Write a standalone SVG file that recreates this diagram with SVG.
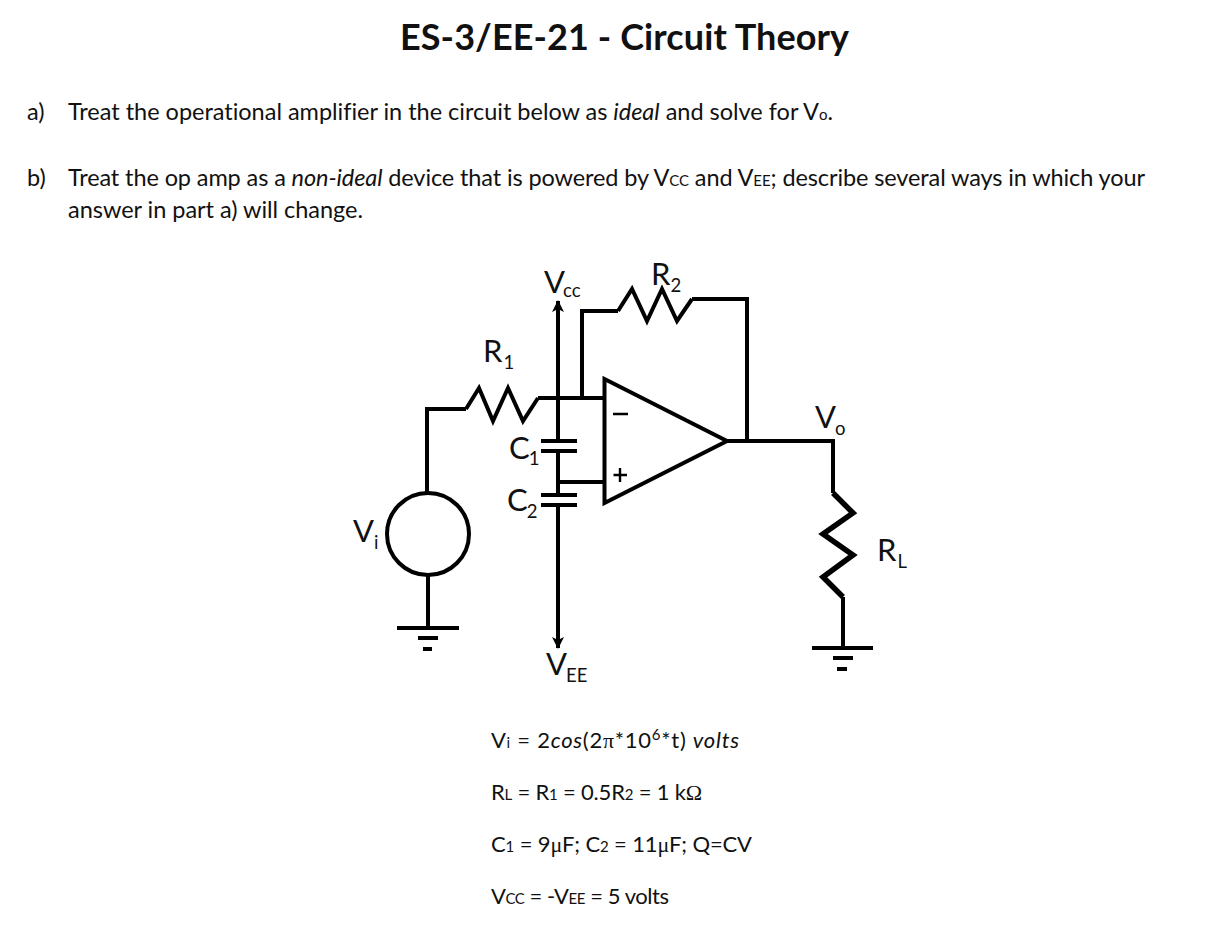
<svg xmlns="http://www.w3.org/2000/svg" width="1213" height="925" viewBox="0 0 1213 925">
<style>
text{font-family:"Lato","Open Sans","Liberation Sans",sans-serif;fill:#111;font-variant-ligatures:none}
.t{font-size:23.5px}
.l{font-size:31px}
.e{font-size:22px}
.s{font-size:15px}
.ls{font-size:18.500px}
.g{font-family:"Liberation Serif",serif}
.w{fill:none;stroke:#000;stroke-width:4;stroke-linejoin:miter;stroke-linecap:butt}
.h{stroke-width:5.5}
.m{stroke-width:2.4}
</style>
<defs>
<marker id="arrow" markerUnits="userSpaceOnUse" markerWidth="14" markerHeight="14" refX="11" refY="6" orient="auto"><path d="M0 0L12 6L0 12L3 6Z" fill="#000"/></marker>
</defs>
<rect width="1213" height="925" fill="#fff"/>
<g id="header">
<text x="400" y="50" font-size="36" font-weight="700" textLength="449">ES-3/EE-21 - Circuit Theory</text>
<text class="t" x="27" y="120">a)</text>
<text class="t" x="68" y="120" textLength="765">Treat the operational amplifier in the circuit below as <tspan font-style="italic">ideal</tspan> and solve for V<tspan class="s">o</tspan>.</text>
<text class="t" x="27" y="186">b)</text>
<text class="t" x="68" y="186" textLength="1077">Treat the op amp as a <tspan font-style="italic">non-ideal</tspan> device that is powered by V<tspan class="s">CC</tspan> and V<tspan class="s">EE</tspan>; describe several ways in which your</text>
<text class="t" x="68" y="218" textLength="295">answer in part a) will change.</text>
</g>
<g id="connectors" class="w">
<path d="M427 492V409H466"/>
<path d="M538 398H604"/>
<path d="M582 398V311H618"/>
<path d="M692 299H747V441"/>
<path d="M727 441H833V493"/>
<path d="M843 597V648"/>
<path d="M428 575V628"/>
<path d="M558 398V441"/>
<path d="M558 451V495"/>
<path d="M558 482H604"/>
<path d="M558 398V301" marker-end="url(#arrow)"/>
<path d="M558 505V648" marker-end="url(#arrow)"/>
</g>
<g id="R1"><path class="w" d="M466 409L479 388L493 421L508 388L523 421L538 398"/><text class="l" x="483" y="362">R<tspan class="ls" dx="1" dy="7">1</tspan></text></g>
<g id="R2"><path class="w" d="M618 311L632 289L647 321L662 289L677 321L692 299"/><text class="l" x="651" y="285">R<tspan class="ls" dx="0" dy="7">2</tspan></text></g>
<g id="RL"><path class="w h" d="M833 493L853 513L823 534L853 555L823 577L843 597"/><text class="l" x="877" y="561">R<tspan class="ls" dx="1" dy="7">L</tspan></text></g>
<g id="C1"><path class="w" d="M541 441H577M541 451H577"/><text class="l" x="509" y="459">C<tspan class="ls" dx="-1" dy="6">1</tspan></text></g>
<g id="C2"><path class="w" d="M541 495H577M541 505H577"/><text class="l" x="507" y="511">C<tspan class="ls" dx="-1" dy="7">2</tspan></text></g>
<g id="opamp"><path class="w" d="M604.5 379L727 441L604.5 503Z"/><path class="w m" d="M613 414H628M613.500 475H627M620 468V482"/></g>
<g id="Vi"><circle class="w" cx="428" cy="534" r="41"/><text class="l" x="353" y="542">V<tspan class="ls" dx="0" dy="7">i</tspan></text></g>
<g id="Vcc"><text class="l" x="544" y="293">V<tspan class="ls" dx="-2" dy="4">cc</tspan></text></g>
<g id="Vee"><text class="l" x="546" y="675">V<tspan class="ls" dx="-1" dy="7">EE</tspan></text></g>
<g id="Vo"><text class="l" x="815" y="428">V<tspan class="ls" dx="-1" dy="7">o</tspan></text></g>
<g id="GND1"><path class="w" d="M397 628H459M418 638H438M423 649H432"/></g>
<g id="GND2"><path class="w" d="M812 648H873M833 658H853M837 669H847"/></g>
<g id="equations">
<text class="e" x="491" y="748" textLength="248">V<tspan class="s">i</tspan> = 2<tspan font-style="italic">cos</tspan>(2<tspan class="g">π</tspan>*10<tspan class="s" dy="-8">6</tspan><tspan dy="8">*t) </tspan><tspan font-style="italic">volts</tspan></text>
<text class="e" x="491" y="800" textLength="211">R<tspan class="s">L</tspan> = R<tspan class="s">1</tspan> = 0.5R<tspan class="s">2</tspan> = 1 k<tspan class="g">Ω</tspan></text>
<text class="e" x="491" y="852" textLength="261">C<tspan class="s">1</tspan> = 9<tspan class="g">μ</tspan>F; C<tspan class="s">2</tspan> = 11<tspan class="g">μ</tspan>F; Q=CV</text>
<text class="e" x="491" y="904" textLength="178">V<tspan class="s">CC</tspan> = -V<tspan class="s">EE</tspan> = 5 volts</text>
</g>
</svg>
